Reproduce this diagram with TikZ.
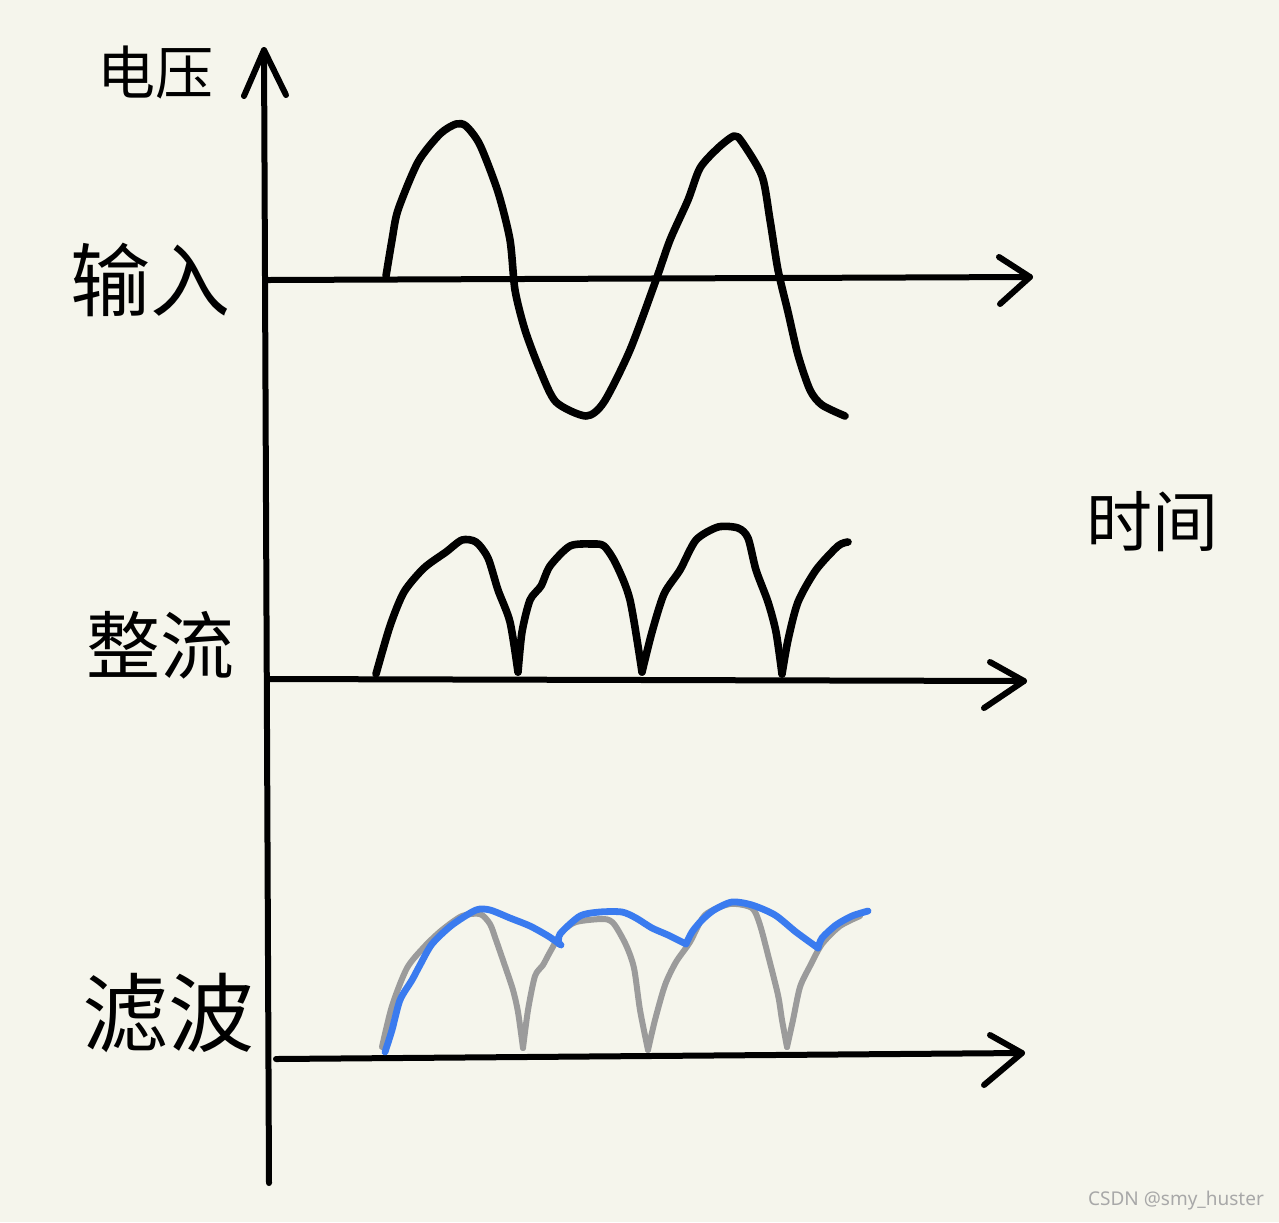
\documentclass[tikz,border=0pt]{standalone}
\usepackage{fontspec}
\newfontfamily\cjk{Noto Sans CJK SC}
\setmainfont{Noto Sans}
\definecolor{bg}{HTML}{F5F5EC}
\definecolor{wgray}{HTML}{9B9B9B}
\definecolor{wblue}{HTML}{3A7BEF}
\definecolor{mark}{HTML}{A8A8A8}
\begin{document}
\begin{tikzpicture}[x=0.5pt,y=-0.5pt,
  ink/.style={line width=3pt,line cap=round,line join=round,black},
  wave/.style={line width=3.8pt,line cap=round,line join=round,black},
  greyink/.style={line width=3pt,line cap=round,line join=round,wgray},
  blueink/.style={line width=3.4pt,line cap=round,line join=round,wblue},
  lbl/.style={inner sep=0pt,font=\cjk}]
\fill[bg] (0,0) rectangle (1279,1222);
\useasboundingbox (0,0) rectangle (1279,1222);
% vertical axis
\coordinate (vb) at (269,1183);
\coordinate (vt) at (264,50);
\draw[ink] (vb) -- (vt);
\draw[ink] (244,96) -- (vt) -- (286,95);
% axis 1
\coordinate (a1s) at (268,280);
\coordinate (a1e) at (1030,277);
\draw[ink] (a1s) -- (a1e);
\draw[ink] (999,257) -- (a1e) -- (1000,304);
% axis 2
\coordinate (a2s) at (270,679);
\coordinate (a2e) at (1024,681);
\draw[ink] (a2s) -- (a2e);
\draw[ink] (990,662) -- (a2e) -- (984,708);
% axis 3
\coordinate (a3s) at (276,1059);
\coordinate (a3e) at (1022,1053);
\draw[ink] (a3s) -- (a3e);
\draw[ink] (990,1035) -- (a3e) -- (984,1085);
% input wave
\draw[wave] plot[smooth,tension=0.45] coordinates {(386,276) (392,240) (398,210) (418,162) (440,134) (456,124) (466,126) (480,145) (498,192) (510,240) (515,290) (525,330) (540,370) (556,402) (586,416) (604,402) (630,350) (656,280) (670,240) (688,200) (700,168) (718,148) (734,136) (742,142) (762,176) (770,220) (778,270) (788,312) (798,355) (810,390) (822,405) (845,416)};
% rectified wave
\draw[wave] plot[smooth,tension=0.45] coordinates {(376,674) (390,626) (404,592) (424,568) (446,552) (462,540) (476,542) (488,558) (498,590) (510,622) (518,672)};
\draw[wave] plot[smooth,tension=0.45] coordinates {(518,672) (522,632) (530,600) (541,586) (550,566) (570,546) (592,544) (604,546) (616,564) (630,600) (642,672)};
\draw[wave] plot[smooth,tension=0.45] coordinates {(642,672) (652,632) (664,594) (680,570) (696,540) (718,527) (738,528) (748,538) (756,570) (768,602) (776,632) (782,674)};
\draw[wave] plot[smooth,tension=0.45] coordinates {(782,674) (788,640) (798,602) (816,570) (838,546) (848,542)};
% filtered: grey rectified
\draw[greyink] plot[smooth,tension=0.45] coordinates {(382,1047) (392,1006) (407,968) (425,946) (442,930) (462,916) (480,914) (490,924) (496,940) (505,966) (513,990) (518,1012) (523,1048)};
\draw[greyink] plot[smooth,tension=0.45] coordinates {(523,1048) (528,1010) (535,976) (543,965) (550,952) (562,932) (576,922) (604,919) (614,924) (626,945) (634,968) (640,1010) (648,1050)};
\draw[greyink] plot[smooth,tension=0.45] coordinates {(648,1050) (655,1020) (665,985) (676,962) (690,942) (705,915) (730,904) (752,908) (760,925) (768,955) (778,995) (782,1020) (787,1047)};
\draw[greyink] plot[smooth,tension=0.45] coordinates {(787,1047) (793,1020) (800,987) (810,966) (822,944) (840,926) (860,916)};
% filtered: blue envelope
\draw[blueink] plot[smooth,tension=0.45] coordinates {(385,1052) (392,1030) (400,1000) (412,980) (420,965) (432,944) (452,925) (476,910) (490,910) (510,918) (530,926) (548,936) (561,945)};
\draw[blueink] plot[smooth,tension=0.45] coordinates {(559,944) (560,934) (580,916) (600,912) (622,912) (636,918) (652,928) (668,935) (686,944)};
\draw[blueink] plot[smooth,tension=0.45] coordinates {(686,944) (692,932) (702,920) (714,910) (732,902) (752,905) (775,915) (796,932) (818,948)};
\draw[blueink] plot[smooth,tension=0.45] coordinates {(818,948) (822,938) (836,925) (852,916) (868,911)};
% labels
\node[lbl,font=\cjk\fontsize{29}{29}\selectfont] (ldy) at (155,73) {电压};
\node[lbl,font=\cjk\fontsize{40}{40}\selectfont] (lsr) at (150,280) {输入};
\node[lbl,font=\cjk\fontsize{37}{37}\selectfont] (lzl) at (160,645) {整流};
\node[lbl,font=\cjk\fontsize{43}{43}\selectfont] (llb) at (168,1013) {滤波};
\node[lbl,font=\cjk\fontsize{33}{33}\selectfont] (lsj) at (1152,522) {时间};
\node[inner sep=0pt,text=mark,font=\fontsize{9.5}{10}\selectfont] (wm) at (1176,1201) {CSDN @smy\_huster};
\end{tikzpicture}
\end{document}
